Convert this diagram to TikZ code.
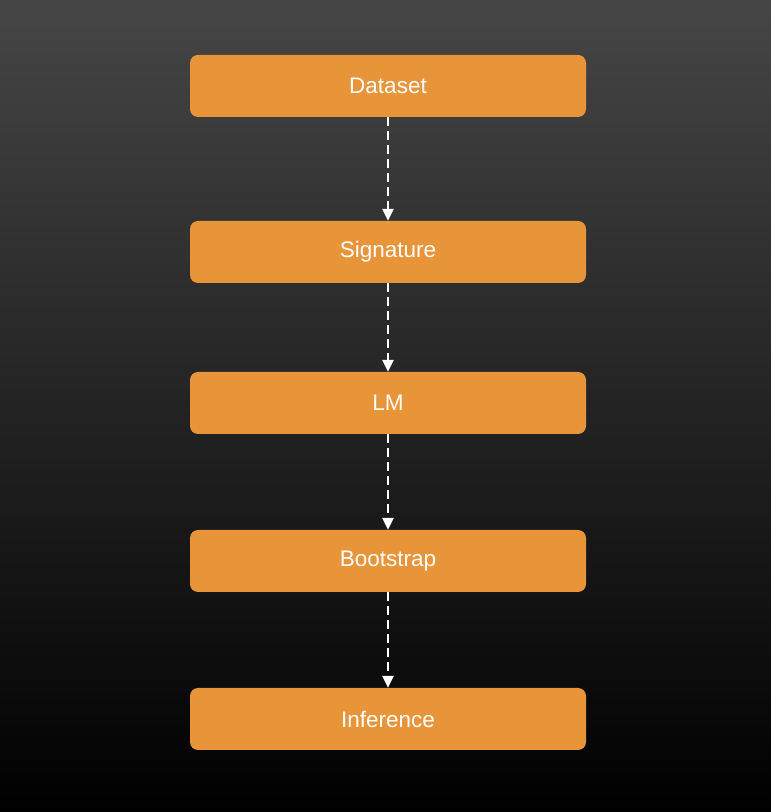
\documentclass[tikz,border=0pt]{standalone}
\usepackage{fontspec}
\setmainfont{Liberation Sans}
\usetikzlibrary{arrows.meta}
\definecolor{bgtop}{RGB}{70,70,70}
\definecolor{bgbot}{RGB}{0,0,0}
\definecolor{boxorange}{RGB}{232,149,58}

\begin{document}
\begin{tikzpicture}[x=1pt, y=1pt, line cap=butt, line join=round,
	stagebox/.style={fill=boxorange, rounded corners=8pt, minimum width=396pt, minimum height=62pt, inner sep=0pt, text=white, font=\fontsize{22.5}{26}\selectfont},
	flow/.style={draw=white, line width=2.6pt, dash pattern=on 9pt off 5pt, -{Triangle[width=11pt, length=12pt]}}]
	\shade[top color=bgtop, bottom color=bgbot, shading angle=0] (0,0) rectangle (771,812);
	\useasboundingbox (0,0) rectangle (771,812);
	\node[stagebox] (dataset) at (388,726) {Dataset};
	\node[stagebox] (signature) at (388,560) {Signature};
	\node[stagebox] (lm) at (388,409) {LM};
	\node[stagebox] (bootstrap) at (388,251) {Bootstrap};
	\node[stagebox] (inference) at (388,93) {Inference};
	\draw[flow] (dataset) -- (signature);
	\draw[flow] (signature) -- (lm);
	\draw[flow] (lm) -- (bootstrap);
	\draw[flow] (bootstrap) -- (inference);
\end{tikzpicture}
\end{document}
